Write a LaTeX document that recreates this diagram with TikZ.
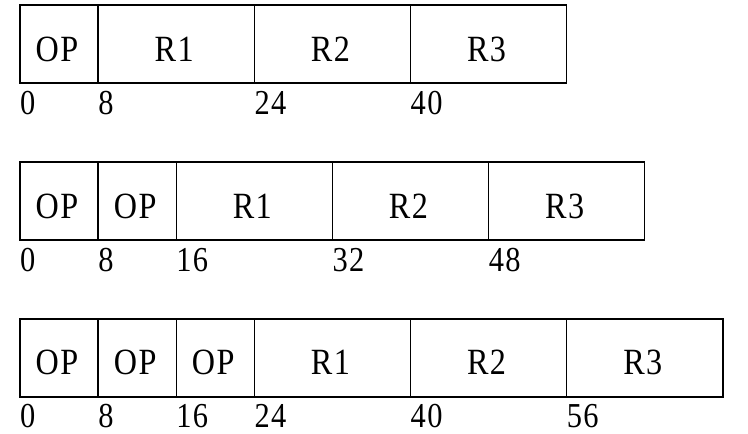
\documentclass[tikz,border=0pt]{standalone}
\usepackage{fontspec}
\setmainfont{Liberation Serif}[FakeStretch=0.87,LetterSpace=4]
\begin{document}
\begin{tikzpicture}[x=1pt,y=-1pt,
  cell/.style={draw=black,line width=1.3pt,minimum height=78pt,inner sep=0pt,outer sep=0pt,anchor=north west},
  lbl/.style={font=\fontsize{37}{37}\selectfont},
  num/.style={font=\fontsize{35}{35}\selectfont,anchor=base west,inner sep=0pt}]
\useasboundingbox (0,0) rectangle (748,434);
\def\u{78.1}
% Row 1
\foreach \name/\a/\w/\t in {aa/0/1/OP, ab/1/2/R1, ac/3/2/R2, ad/5/2/R3}{
  \node[cell,minimum width=\w*\u pt] (r1\name) at (20+\a*\u,5) {};
  \node[lbl,anchor=base] (t1\name) at (18+\a*\u+\w*\u/2,61) {\t};
}
\foreach \name/\a/\t in {a/0/0,b/1/8,c/3/24,d/5/40}{
  \node[num] (n1\name) at (20+\a*\u,114) {\t};
}
% Row 2
\foreach \name/\a/\w/\t in {aa/0/1/OP, ab/1/1/OP, ac/2/2/R1, ad/4/2/R2, ae/6/2/R3}{
  \node[cell,minimum width=\w*\u pt] (r2\name) at (20+\a*\u,162) {};
  \node[lbl,anchor=base] (t2\name) at (18+\a*\u+\w*\u/2,218) {\t};
}
\foreach \name/\a/\t in {a/0/0,b/1/8,c/2/16,d/4/32,e/6/48}{
  \node[num] (n2\name) at (20+\a*\u,271) {\t};
}
% Row 3
\foreach \name/\a/\w/\t in {aa/0/1/OP, ab/1/1/OP, ac/2/1/OP, ad/3/2/R1, ae/5/2/R2, af/7/2/R3}{
  \node[cell,minimum width=\w*\u pt] (r3\name) at (20+\a*\u,319) {};
  \node[lbl,anchor=base] (t3\name) at (18+\a*\u+\w*\u/2,374) {\t};
}
\foreach \name/\a/\t in {a/0/0,b/1/8,c/2/16,d/3/24,e/5/40,f/7/56}{
  \node[num] (n3\name) at (20+\a*\u,427) {\t};
}
\end{tikzpicture}
\end{document}
